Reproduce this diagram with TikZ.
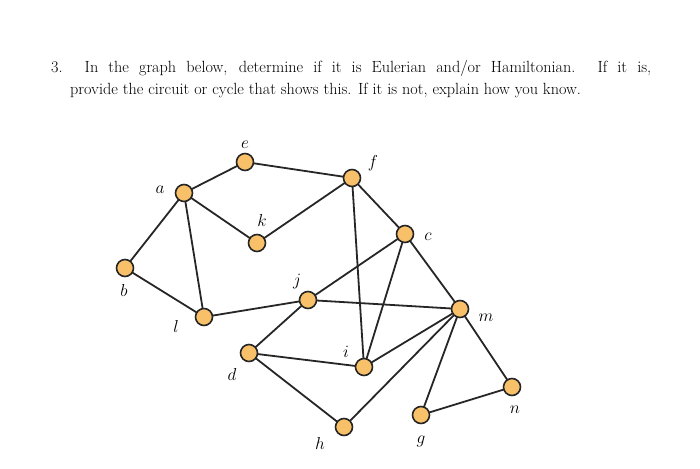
\documentclass[tikz,border=0pt]{standalone}
\begin{document}
\begin{tikzpicture}[x=1pt,y=-1pt,
  vtx/.style={circle,draw=black!85,line width=1.6pt,fill={rgb,255:red,248;green,192;blue,104},minimum size=17pt,inner sep=0pt},
  edge/.style={line width=1.8pt,black!85},
  lbl/.style={font=\fontsize{17}{20}\selectfont}]
\useasboundingbox (0,0) rectangle (700,468);
\node[anchor=north west,text width=600pt,align=justify,inner sep=0pt,font=\fontsize{16.2}{22}\selectfont] (txt) at (51,60)
 {\hangindent=19pt\hangafter=1 3. In the graph below, determine if it is Eulerian and/or Hamiltonian. If it is,\linebreak provide the circuit or cycle that shows this. If it is not, explain how you know.\par};
\foreach \n/\x/\y in {e/245/162,a/184/193,f/352/178,k/257/243,c/405/234,b/125/268,j/308/300,m/460/309,l/204/317,d/249/353,i/364/367,n/512/387,h/344/427,g/421/415}
  \coordinate (\n) at (\x,\y);
\foreach \u/\v in {a/e,e/f,a/k,k/f,a/b,b/l,a/l,f/c,f/i,c/j,c/i,c/m,j/m,l/j,j/d,d/i,d/h,i/m,h/m,m/g,m/n,g/n}
  \draw[edge] (\u) -- (\v);
\foreach \n in {e,a,f,k,c,b,j,m,l,d,i,n,h,g}
  \node[vtx] (v\n) at (\n) {};
\foreach \t/\x/\y in {e/245/145,a/160/190,f/373/163,k/262/220,c/428/237,b/124/290,j/297/282,m/486/318,l/176/326,d/232/374,i/346/352,n/515/410,h/320/443,g/421/441}
  \node[lbl] (l\t) at (\x,\y) {$\t$};
\end{tikzpicture}
\end{document}
